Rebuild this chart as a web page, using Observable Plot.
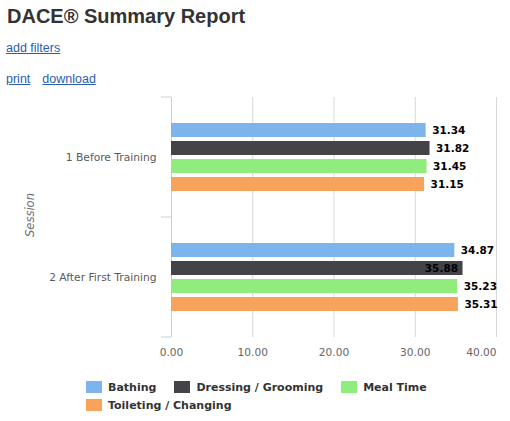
<!DOCTYPE html>
<html>
<head>
<meta charset="utf-8">
<script src="https://cdn.jsdelivr.net/npm/d3@7"></script>
<script src="https://cdn.jsdelivr.net/npm/@observablehq/plot@0.6"></script>
<style>
  body { margin: 0; background: #fff; width: 510px; height: 421px; position: relative; overflow: hidden; }
  .abs { position: absolute; white-space: nowrap; line-height: 1; }
  h1.abs { margin: 0; left: 7px; top: 6px; font: bold 20px "Liberation Sans", Arial, sans-serif; line-height: 20px; color: #333; }
  a { color: #2a5db0; text-decoration: underline; font: 12.5px "Liberation Sans", Arial, sans-serif; }
  #legend { position: absolute; left: 86px; top: 381px; width: 370px; display: flex; flex-wrap: wrap; row-gap: 6px; }
  .item { display: flex; align-items: center; height: 12px; margin-right: 18px; font: bold 11px "DejaVu Sans", sans-serif; color: #333; }
  .swatch { width: 16px; height: 12px; margin-right: 6px; }
</style>
</head>
<body>
<h1 class="abs">DACE® Summary Report</h1>
<div class="abs" style="left:6px; top:38.5px;"><a href="#">add filters</a></div>
<div class="abs" style="left:6px; top:69.5px;"><a href="#">print</a><span style="display:inline-block;width:12px"></span><a href="#">download</a></div>
<div id="chart" style="position:absolute; left:0; top:85px;"></div>
<div id="legend"></div>
<script>
// sessions (categories) and one array per series
const sessions = ["1 Before Training", "2 After First Training"]
const series = ["Bathing", "Dressing / Grooming", "Meal Time", "Toileting / Changing"]
const colors = ["#7cb5ec", "#434348", "#90ed7d", "#f7a35c"]
const bathing = [31.34, 34.87]
const dressing = [31.82, 35.88]
const mealTime = [31.45, 35.23]
const toileting = [31.15, 35.31]
const xTicks = [0, 10, 20, 30, 40]

const values = [bathing, dressing, mealTime, toileting]
let data = []
sessions.forEach((s, i) => {
    series.forEach((k, j) => {
        data.push({session: s, series: k, value: values[j][i]})
    })
})

const width = 510, height = 282
const mL = 171, mR = 14, mT = 11, mB = 30
// labels that would spill past the plot go inside the bar (like highcharts does)
const xs = d3.scaleLinear().domain([0, 40]).range([mL, width - mR])
const labelW = 30
const inside = d => xs(d.value) + 6 + labelW > width - mR
const lastTick = xTicks[xTicks.length - 1]

let chart = Plot.plot({
    width: width,
    height: height,
    marginLeft: mL,
    marginRight: mR,
    marginTop: mT,
    marginBottom: mB,
    style: {fontFamily: "DejaVu Sans", fontSize: "10.6px", color: "#666", background: "white"},
    x: {domain: [0, 40]},
    y: {domain: series, paddingInner: 0.25, paddingOuter: 1.42, axis: null},
    fy: {domain: sessions, padding: 0},
    color: {domain: series, range: colors},
    marks: [
        Plot.gridX(xTicks, {stroke: "#d8d8d8", strokeOpacity: 1}),
        Plot.ruleX([0], {stroke: "#c0d0e0"}),
        Plot.barX(data, {x: "value", y: "series", fy: "session", fill: "series"}),
        Plot.text(data.filter(d => !inside(d)), {x: "value", y: "series", fy: "session", text: d => d.value.toFixed(2),
            dx: 6, textAnchor: "start", fontWeight: "bold", fontSize: 10.5, fill: "#000"}),
        Plot.text(data.filter(inside), {x: "value", y: "series", fy: "session", text: d => d.value.toFixed(2),
            dx: -5, textAnchor: "end", fontWeight: "bold", fontSize: 10.5, fill: "#000"}),
        // last tick label is pulled inside the plot, right aligned
        Plot.axisX(xTicks.filter(t => t != lastTick), {tickFormat: d => d.toFixed(2), tickSize: 0, tickPadding: 11, label: null, color: "#666"}),
        Plot.axisX([lastTick], {tickFormat: d => d.toFixed(2), tickSize: 0, tickPadding: 11, label: null, color: "#666", textAnchor: "end"}),
        Plot.axisFy({anchor: "left", tickSize: 0, tickPadding: 15, label: null, fontSize: 10.7, color: "#5a5a5a"})
    ]
})

// small ticks on the category axis at the band edges + axis title
const fy = chart.scale("fy")
const svg = d3.select(chart)
let edges = sessions.map(s => fy.apply(s))
edges.push(fy.apply(sessions[sessions.length - 1]) + fy.bandwidth)
edges.forEach(e => {
    svg.append("line").attr("x1", mL - 10).attr("x2", mL).attr("y1", e).attr("y2", e)
        .attr("stroke", "#c0d0e0")
})
svg.append("text")
    .attr("transform", `translate(33.5,${130})rotate(-90)`)
    .attr("text-anchor", "middle")
    .attr("font-style", "italic")
    .attr("font-size", 11.5)
    .attr("fill", "#707070")
    .text("Session")

d3.select("#chart").append(() => chart)

// legend
const legend = d3.select("#legend")
series.forEach((s, i) => {
    let item = legend.append("div").attr("class", "item")
    item.append("div").attr("class", "swatch").style("background", colors[i])
    item.append("span").text(s)
})
</script>
</body>
</html>
